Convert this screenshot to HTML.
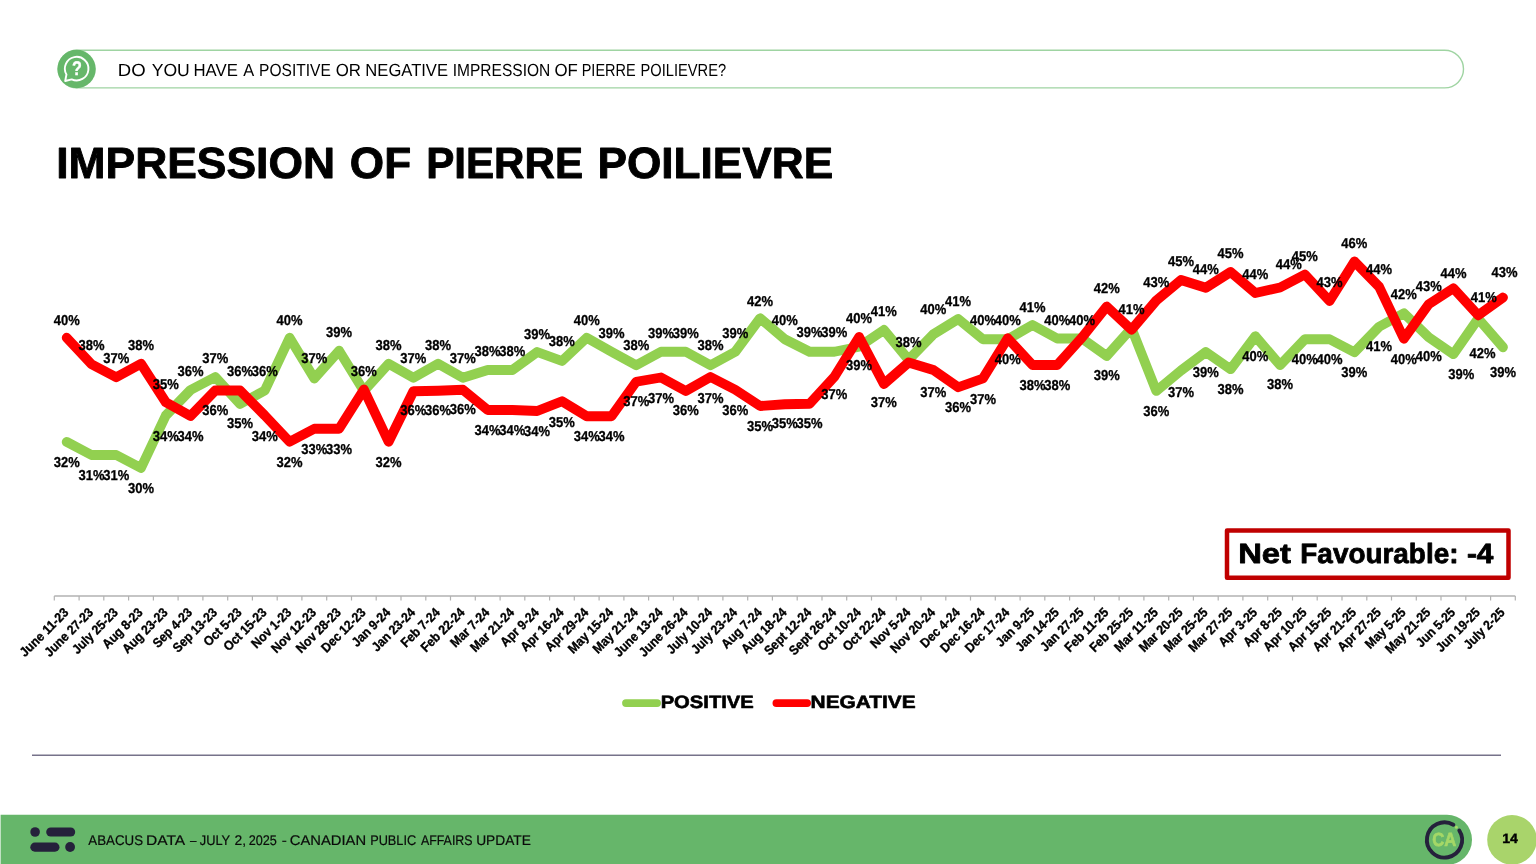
<!DOCTYPE html>
<html lang="en">
<head>
<meta charset="utf-8">
<title>Impression of Pierre Poilievre</title>
<style>
html,body{margin:0;padding:0;background:#fff;}
body{width:1536px;height:864px;overflow:hidden;position:relative;font-family:"Liberation Sans",sans-serif;}
svg{position:absolute;left:0;top:0;display:block;}
text{font-family:"Liberation Sans",sans-serif;text-rendering:geometricPrecision;}
.dl text{font-weight:bold;font-size:14.3px;fill:#000;stroke:#000;stroke-width:0.3;}
.ax text{font-weight:bold;font-size:13.2px;fill:#000;stroke:#000;stroke-width:0.35;text-anchor:end;}
</style>
</head>
<body>
<svg width="1536" height="864" viewBox="0 0 1536 864">
<rect x="0" y="0" width="1536" height="864" fill="#ffffff"/>

<!-- question pill -->
<rect x="58.2" y="50.3" width="1405.3" height="37.6" rx="18.8" ry="18.8" fill="#ffffff" stroke="#9fd4a2" stroke-width="1.4"/>
<circle cx="76.6" cy="69" r="19.2" fill="#66b76a"/>
<path d="M66.44 74.55 A11.8 11.8 0 1 1 71.67 79.34 L65.2 81.0 Z" fill="none" stroke="#ffffff" stroke-width="1.9" stroke-linecap="round" stroke-linejoin="round"/>
<text transform="translate(76.9 75.3) scale(1 1.22)" x="0" y="0" font-size="16.2" font-weight="bold" fill="#ffffff" stroke="#ffffff" stroke-width="0.3" text-anchor="middle">?</text>
<text x="117.88" y="76.00" font-size="17.5" fill="#000" textLength="27.81" lengthAdjust="spacingAndGlyphs">DO</text>
<text x="151.71" y="76.00" font-size="17.5" fill="#000" textLength="38.14" lengthAdjust="spacingAndGlyphs">YOU</text>
<text x="193.46" y="76.00" font-size="17.5" fill="#000" textLength="44.34" lengthAdjust="spacingAndGlyphs">HAVE</text>
<text x="243.27" y="76.00" font-size="17.5" fill="#000" textLength="10.96" lengthAdjust="spacingAndGlyphs">A</text>
<text x="259.12" y="76.00" font-size="17.5" fill="#000" textLength="71.74" lengthAdjust="spacingAndGlyphs">POSITIVE</text>
<text x="335.70" y="76.00" font-size="17.5" fill="#000" textLength="25.28" lengthAdjust="spacingAndGlyphs">OR</text>
<text x="365.36" y="76.00" font-size="17.5" fill="#000" textLength="82.64" lengthAdjust="spacingAndGlyphs">NEGATIVE</text>
<text x="452.77" y="76.00" font-size="17.5" fill="#000" textLength="97.50" lengthAdjust="spacingAndGlyphs">IMPRESSION</text>
<text x="554.40" y="76.00" font-size="17.5" fill="#000" textLength="23.37" lengthAdjust="spacingAndGlyphs">OF</text>
<text x="581.71" y="76.00" font-size="17.5" fill="#000" textLength="53.91" lengthAdjust="spacingAndGlyphs">PIERRE</text>
<text x="640.50" y="76.00" font-size="17.5" fill="#000" textLength="85.65" lengthAdjust="spacingAndGlyphs">POILIEVRE?</text>
<!-- title -->
<text x="56.23" y="178.00" font-size="43.6" font-weight="bold" fill="#000" stroke="#000" stroke-width="0.9" stroke-linejoin="round" textLength="278.81" lengthAdjust="spacingAndGlyphs">IMPRESSION</text>
<text x="349.89" y="178.00" font-size="43.6" font-weight="bold" fill="#000" stroke="#000" stroke-width="0.9" stroke-linejoin="round" textLength="61.28" lengthAdjust="spacingAndGlyphs">OF</text>
<text x="426.13" y="178.00" font-size="43.6" font-weight="bold" fill="#000" stroke="#000" stroke-width="0.9" stroke-linejoin="round" textLength="156.86" lengthAdjust="spacingAndGlyphs">PIERRE</text>
<text x="597.49" y="178.00" font-size="43.6" font-weight="bold" fill="#000" stroke="#000" stroke-width="0.9" stroke-linejoin="round" textLength="235.68" lengthAdjust="spacingAndGlyphs">POILIEVRE</text>
<!-- chart -->
<polyline points="66.7,441.95 91.5,455.00 116.2,455.00 141.0,468.00 165.8,415.50 190.5,390.00 215.3,377.00 240.0,404.00 264.8,390.50 289.6,337.75 314.3,378.50 339.1,350.75 363.9,391.00 388.6,363.75 413.4,377.75 438.1,363.75 462.9,377.75 487.7,370.00 512.4,370.00 537.2,352.00 562.0,361.00 586.7,337.75 611.5,351.75 636.2,365.25 661.0,351.75 685.8,351.75 710.5,365.25 735.3,351.75 760.1,318.25 784.8,339.25 809.6,351.75 834.4,351.75 859.1,346.75 883.9,329.95 908.6,359.75 933.4,334.25 958.2,319.00 982.9,339.25 1007.7,339.25 1032.5,325.00 1057.2,338.50 1082.0,338.50 1106.7,356.00 1131.5,328.25 1156.3,390.95 1181.0,370.50 1205.8,352.00 1230.6,369.20 1255.3,336.25 1280.1,365.15 1304.9,339.25 1329.6,339.25 1354.4,352.25 1379.1,326.75 1403.9,313.25 1428.7,337.25 1453.4,354.20 1478.2,318.65 1503.0,347.25" fill="none" stroke="#92d050" stroke-width="9.8" stroke-linecap="round" stroke-linejoin="round"/>
<polyline points="66.7,337.75 91.5,364.25 116.2,377.25 141.0,363.75 165.8,402.25 190.5,416.00 215.3,390.50 240.0,390.50 264.8,415.50 289.6,441.75 314.3,428.75 339.1,428.75 363.9,389.50 388.6,441.75 413.4,391.25 438.1,390.75 462.9,389.75 487.7,410.00 512.4,410.00 537.2,411.00 562.0,401.25 586.7,416.25 611.5,416.25 636.2,381.75 661.0,377.50 685.8,391.00 710.5,377.00 735.3,389.75 760.1,406.00 784.8,404.25 809.6,403.75 834.4,376.75 859.1,337.00 883.9,384.00 908.6,362.50 933.4,370.00 958.2,387.25 982.9,378.50 1007.7,338.25 1032.5,365.00 1057.2,365.00 1082.0,337.50 1106.7,306.50 1131.5,329.75 1156.3,300.50 1181.0,280.00 1205.8,287.75 1230.6,272.00 1255.3,293.00 1280.1,287.50 1304.9,274.50 1329.6,301.00 1354.4,261.50 1379.1,286.75 1403.9,338.75 1428.7,304.25 1453.4,288.25 1478.2,315.30 1503.0,297.50" fill="none" stroke="#ff0000" stroke-width="9.8" stroke-linecap="round" stroke-linejoin="round"/>
<g class="dl">
<text x="53.7" y="324.8" textLength="26.0" lengthAdjust="spacingAndGlyphs">40%</text>
<text x="78.5" y="350.3" textLength="26.0" lengthAdjust="spacingAndGlyphs">38%</text>
<text x="103.2" y="363.1" textLength="26.0" lengthAdjust="spacingAndGlyphs">37%</text>
<text x="128.0" y="350.3" textLength="26.0" lengthAdjust="spacingAndGlyphs">38%</text>
<text x="152.7" y="389.3" textLength="26.0" lengthAdjust="spacingAndGlyphs">35%</text>
<text x="177.5" y="441.1" textLength="26.0" lengthAdjust="spacingAndGlyphs">34%</text>
<text x="202.2" y="415.3" textLength="26.0" lengthAdjust="spacingAndGlyphs">36%</text>
<text x="227.0" y="376.1" textLength="26.0" lengthAdjust="spacingAndGlyphs">36%</text>
<text x="251.7" y="441.1" textLength="26.0" lengthAdjust="spacingAndGlyphs">34%</text>
<text x="152.7" y="441.1" textLength="26.0" lengthAdjust="spacingAndGlyphs">34%</text>
<text x="177.5" y="376.1" textLength="26.0" lengthAdjust="spacingAndGlyphs">36%</text>
<text x="202.2" y="363.1" textLength="26.0" lengthAdjust="spacingAndGlyphs">37%</text>
<text x="227.0" y="428.1" textLength="26.0" lengthAdjust="spacingAndGlyphs">35%</text>
<text x="251.7" y="376.1" textLength="26.0" lengthAdjust="spacingAndGlyphs">36%</text>
<text x="53.7" y="466.8" textLength="26.0" lengthAdjust="spacingAndGlyphs">32%</text>
<text x="78.5" y="479.8" textLength="26.0" lengthAdjust="spacingAndGlyphs">31%</text>
<text x="103.2" y="479.8" textLength="26.0" lengthAdjust="spacingAndGlyphs">31%</text>
<text x="128.0" y="493.1" textLength="26.0" lengthAdjust="spacingAndGlyphs">30%</text>
<text x="276.5" y="466.8" textLength="26.0" lengthAdjust="spacingAndGlyphs">32%</text>
<text x="301.2" y="453.8" textLength="26.0" lengthAdjust="spacingAndGlyphs">33%</text>
<text x="326.0" y="453.8" textLength="26.0" lengthAdjust="spacingAndGlyphs">33%</text>
<text x="350.7" y="376.1" textLength="26.0" lengthAdjust="spacingAndGlyphs">36%</text>
<text x="375.5" y="466.8" textLength="26.0" lengthAdjust="spacingAndGlyphs">32%</text>
<text x="276.5" y="324.8" textLength="26.0" lengthAdjust="spacingAndGlyphs">40%</text>
<text x="301.2" y="363.1" textLength="26.0" lengthAdjust="spacingAndGlyphs">37%</text>
<text x="326.0" y="337.3" textLength="26.0" lengthAdjust="spacingAndGlyphs">39%</text>
<text x="375.5" y="350.3" textLength="26.0" lengthAdjust="spacingAndGlyphs">38%</text>
<text x="400.2" y="363.1" textLength="26.0" lengthAdjust="spacingAndGlyphs">37%</text>
<text x="425.0" y="350.3" textLength="26.0" lengthAdjust="spacingAndGlyphs">38%</text>
<text x="449.7" y="363.1" textLength="26.0" lengthAdjust="spacingAndGlyphs">37%</text>
<text x="474.5" y="355.6" textLength="26.0" lengthAdjust="spacingAndGlyphs">38%</text>
<text x="499.2" y="355.6" textLength="26.0" lengthAdjust="spacingAndGlyphs">38%</text>
<text x="524.0" y="339.3" textLength="26.0" lengthAdjust="spacingAndGlyphs">39%</text>
<text x="548.7" y="346.1" textLength="26.0" lengthAdjust="spacingAndGlyphs">38%</text>
<text x="573.7" y="324.8" textLength="26.0" lengthAdjust="spacingAndGlyphs">40%</text>
<text x="598.5" y="337.8" textLength="26.0" lengthAdjust="spacingAndGlyphs">39%</text>
<text x="623.2" y="350.3" textLength="26.0" lengthAdjust="spacingAndGlyphs">38%</text>
<text x="648.0" y="337.8" textLength="26.0" lengthAdjust="spacingAndGlyphs">39%</text>
<text x="672.7" y="337.8" textLength="26.0" lengthAdjust="spacingAndGlyphs">39%</text>
<text x="697.5" y="350.3" textLength="26.0" lengthAdjust="spacingAndGlyphs">38%</text>
<text x="722.2" y="337.8" textLength="26.0" lengthAdjust="spacingAndGlyphs">39%</text>
<text x="747.0" y="305.6" textLength="26.0" lengthAdjust="spacingAndGlyphs">42%</text>
<text x="400.2" y="415.3" textLength="26.0" lengthAdjust="spacingAndGlyphs">36%</text>
<text x="425.0" y="415.3" textLength="26.0" lengthAdjust="spacingAndGlyphs">36%</text>
<text x="449.7" y="414.3" textLength="26.0" lengthAdjust="spacingAndGlyphs">36%</text>
<text x="474.5" y="434.8" textLength="26.0" lengthAdjust="spacingAndGlyphs">34%</text>
<text x="499.2" y="434.8" textLength="26.0" lengthAdjust="spacingAndGlyphs">34%</text>
<text x="524.0" y="435.6" textLength="26.0" lengthAdjust="spacingAndGlyphs">34%</text>
<text x="548.7" y="426.8" textLength="26.0" lengthAdjust="spacingAndGlyphs">35%</text>
<text x="573.7" y="441.1" textLength="26.0" lengthAdjust="spacingAndGlyphs">34%</text>
<text x="598.5" y="441.1" textLength="26.0" lengthAdjust="spacingAndGlyphs">34%</text>
<text x="623.2" y="406.1" textLength="26.0" lengthAdjust="spacingAndGlyphs">37%</text>
<text x="648.0" y="402.8" textLength="26.0" lengthAdjust="spacingAndGlyphs">37%</text>
<text x="672.7" y="415.3" textLength="26.0" lengthAdjust="spacingAndGlyphs">36%</text>
<text x="697.5" y="402.8" textLength="26.0" lengthAdjust="spacingAndGlyphs">37%</text>
<text x="722.2" y="415.3" textLength="26.0" lengthAdjust="spacingAndGlyphs">36%</text>
<text x="747.0" y="430.6" textLength="26.0" lengthAdjust="spacingAndGlyphs">35%</text>
<text x="771.7" y="324.8" textLength="26.0" lengthAdjust="spacingAndGlyphs">40%</text>
<text x="796.5" y="337.3" textLength="26.0" lengthAdjust="spacingAndGlyphs">39%</text>
<text x="821.2" y="337.3" textLength="26.0" lengthAdjust="spacingAndGlyphs">39%</text>
<text x="846.0" y="370.3" textLength="26.0" lengthAdjust="spacingAndGlyphs">39%</text>
<text x="870.7" y="316.1" textLength="26.0" lengthAdjust="spacingAndGlyphs">41%</text>
<text x="895.5" y="346.8" textLength="26.0" lengthAdjust="spacingAndGlyphs">38%</text>
<text x="920.2" y="314.1" textLength="26.0" lengthAdjust="spacingAndGlyphs">40%</text>
<text x="945.0" y="306.1" textLength="26.0" lengthAdjust="spacingAndGlyphs">41%</text>
<text x="970.0" y="324.8" textLength="26.0" lengthAdjust="spacingAndGlyphs">40%</text>
<text x="994.7" y="324.8" textLength="26.0" lengthAdjust="spacingAndGlyphs">40%</text>
<text x="1019.5" y="312.3" textLength="26.0" lengthAdjust="spacingAndGlyphs">41%</text>
<text x="1044.2" y="324.8" textLength="26.0" lengthAdjust="spacingAndGlyphs">40%</text>
<text x="1069.0" y="324.8" textLength="26.0" lengthAdjust="spacingAndGlyphs">40%</text>
<text x="1093.7" y="380.3" textLength="26.0" lengthAdjust="spacingAndGlyphs">39%</text>
<text x="1118.5" y="313.6" textLength="26.0" lengthAdjust="spacingAndGlyphs">41%</text>
<text x="771.7" y="427.8" textLength="26.0" lengthAdjust="spacingAndGlyphs">35%</text>
<text x="796.5" y="427.8" textLength="26.0" lengthAdjust="spacingAndGlyphs">35%</text>
<text x="821.2" y="399.1" textLength="26.0" lengthAdjust="spacingAndGlyphs">37%</text>
<text x="846.0" y="323.1" textLength="26.0" lengthAdjust="spacingAndGlyphs">40%</text>
<text x="870.7" y="407.3" textLength="26.0" lengthAdjust="spacingAndGlyphs">37%</text>
<text x="920.2" y="396.6" textLength="26.0" lengthAdjust="spacingAndGlyphs">37%</text>
<text x="945.0" y="412.3" textLength="26.0" lengthAdjust="spacingAndGlyphs">36%</text>
<text x="970.0" y="404.3" textLength="26.0" lengthAdjust="spacingAndGlyphs">37%</text>
<text x="994.7" y="363.6" textLength="26.0" lengthAdjust="spacingAndGlyphs">40%</text>
<text x="1019.5" y="389.8" textLength="26.0" lengthAdjust="spacingAndGlyphs">38%</text>
<text x="1044.2" y="389.8" textLength="26.0" lengthAdjust="spacingAndGlyphs">38%</text>
<text x="1093.7" y="293.1" textLength="26.0" lengthAdjust="spacingAndGlyphs">42%</text>
<text x="1143.2" y="286.8" textLength="26.0" lengthAdjust="spacingAndGlyphs">43%</text>
<text x="1168.0" y="265.6" textLength="26.0" lengthAdjust="spacingAndGlyphs">45%</text>
<text x="1192.7" y="273.6" textLength="26.0" lengthAdjust="spacingAndGlyphs">44%</text>
<text x="1217.5" y="258.1" textLength="26.0" lengthAdjust="spacingAndGlyphs">45%</text>
<text x="1242.2" y="278.6" textLength="26.0" lengthAdjust="spacingAndGlyphs">44%</text>
<text x="1275.7" y="268.6" textLength="26.0" lengthAdjust="spacingAndGlyphs">44%</text>
<text x="1291.7" y="260.6" textLength="26.0" lengthAdjust="spacingAndGlyphs">45%</text>
<text x="1316.5" y="286.8" textLength="26.0" lengthAdjust="spacingAndGlyphs">43%</text>
<text x="1341.2" y="247.8" textLength="26.0" lengthAdjust="spacingAndGlyphs">46%</text>
<text x="1366.0" y="273.6" textLength="26.0" lengthAdjust="spacingAndGlyphs">44%</text>
<text x="1390.7" y="364.3" textLength="26.0" lengthAdjust="spacingAndGlyphs">40%</text>
<text x="1415.7" y="290.6" textLength="26.0" lengthAdjust="spacingAndGlyphs">43%</text>
<text x="1440.5" y="278.1" textLength="26.0" lengthAdjust="spacingAndGlyphs">44%</text>
<text x="1470.7" y="301.8" textLength="26.0" lengthAdjust="spacingAndGlyphs">41%</text>
<text x="1491.5" y="277.3" textLength="26.0" lengthAdjust="spacingAndGlyphs">43%</text>
<text x="1143.2" y="416.1" textLength="26.0" lengthAdjust="spacingAndGlyphs">36%</text>
<text x="1168.0" y="396.8" textLength="26.0" lengthAdjust="spacingAndGlyphs">37%</text>
<text x="1192.7" y="376.6" textLength="26.0" lengthAdjust="spacingAndGlyphs">39%</text>
<text x="1217.5" y="394.3" textLength="26.0" lengthAdjust="spacingAndGlyphs">38%</text>
<text x="1242.2" y="361.1" textLength="26.0" lengthAdjust="spacingAndGlyphs">40%</text>
<text x="1267.0" y="389.3" textLength="26.0" lengthAdjust="spacingAndGlyphs">38%</text>
<text x="1291.7" y="364.3" textLength="26.0" lengthAdjust="spacingAndGlyphs">40%</text>
<text x="1316.5" y="364.3" textLength="26.0" lengthAdjust="spacingAndGlyphs">40%</text>
<text x="1341.2" y="376.6" textLength="26.0" lengthAdjust="spacingAndGlyphs">39%</text>
<text x="1366.0" y="351.1" textLength="26.0" lengthAdjust="spacingAndGlyphs">41%</text>
<text x="1390.7" y="299.1" textLength="26.0" lengthAdjust="spacingAndGlyphs">42%</text>
<text x="1415.7" y="361.1" textLength="26.0" lengthAdjust="spacingAndGlyphs">40%</text>
<text x="1448.2" y="379.1" textLength="26.0" lengthAdjust="spacingAndGlyphs">39%</text>
<text x="1469.5" y="358.1" textLength="26.0" lengthAdjust="spacingAndGlyphs">42%</text>
<text x="1490.0" y="376.6" textLength="26.0" lengthAdjust="spacingAndGlyphs">39%</text>
</g>
<path d="M54.3 596H1515.3" stroke="#b2b2b2" stroke-width="1.3" fill="none"/>
<path d="M54.3 596v4.6M79.1 596v4.6M103.8 596v4.6M128.6 596v4.6M153.4 596v4.6M178.1 596v4.6M202.9 596v4.6M227.7 596v4.6M252.4 596v4.6M277.2 596v4.6M301.9 596v4.6M326.7 596v4.6M351.5 596v4.6M376.2 596v4.6M401.0 596v4.6M425.8 596v4.6M450.5 596v4.6M475.3 596v4.6M500.1 596v4.6M524.8 596v4.6M549.6 596v4.6M574.3 596v4.6M599.1 596v4.6M623.9 596v4.6M648.6 596v4.6M673.4 596v4.6M698.2 596v4.6M722.9 596v4.6M747.7 596v4.6M772.4 596v4.6M797.2 596v4.6M822.0 596v4.6M846.7 596v4.6M871.5 596v4.6M896.3 596v4.6M921.0 596v4.6M945.8 596v4.6M970.5 596v4.6M995.3 596v4.6M1020.1 596v4.6M1044.8 596v4.6M1069.6 596v4.6M1094.4 596v4.6M1119.1 596v4.6M1143.9 596v4.6M1168.7 596v4.6M1193.4 596v4.6M1218.2 596v4.6M1242.9 596v4.6M1267.7 596v4.6M1292.5 596v4.6M1317.2 596v4.6M1342.0 596v4.6M1366.8 596v4.6M1391.5 596v4.6M1416.3 596v4.6M1441.0 596v4.6M1465.8 596v4.6M1490.6 596v4.6M1515.3 596v4.6" stroke="#b2b2b2" stroke-width="1.2" fill="none"/>
<g class="ax">
<text transform="translate(69.3 613.3) rotate(-45)" x="0" y="0" textLength="62.6" lengthAdjust="spacingAndGlyphs">June 11-23</text>
<text transform="translate(94.1 613.3) rotate(-45)" x="0" y="0" textLength="62.6" lengthAdjust="spacingAndGlyphs">June 27-23</text>
<text transform="translate(118.8 613.3) rotate(-45)" x="0" y="0" textLength="58.5" lengthAdjust="spacingAndGlyphs">July 25-23</text>
<text transform="translate(143.6 613.3) rotate(-45)" x="0" y="0" textLength="51.1" lengthAdjust="spacingAndGlyphs">Aug 8-23</text>
<text transform="translate(168.4 613.3) rotate(-45)" x="0" y="0" textLength="57.8" lengthAdjust="spacingAndGlyphs">Aug 23-23</text>
<text transform="translate(193.1 613.3) rotate(-45)" x="0" y="0" textLength="49.8" lengthAdjust="spacingAndGlyphs">Sep 4-23</text>
<text transform="translate(217.9 613.3) rotate(-45)" x="0" y="0" textLength="56.5" lengthAdjust="spacingAndGlyphs">Sep 13-23</text>
<text transform="translate(242.6 613.3) rotate(-45)" x="0" y="0" textLength="47.8" lengthAdjust="spacingAndGlyphs">Oct 5-23</text>
<text transform="translate(267.4 613.3) rotate(-45)" x="0" y="0" textLength="54.5" lengthAdjust="spacingAndGlyphs">Oct 15-23</text>
<text transform="translate(292.2 613.3) rotate(-45)" x="0" y="0" textLength="50.4" lengthAdjust="spacingAndGlyphs">Nov 1-23</text>
<text transform="translate(316.9 613.3) rotate(-45)" x="0" y="0" textLength="57.2" lengthAdjust="spacingAndGlyphs">Nov 12-23</text>
<text transform="translate(341.7 613.3) rotate(-45)" x="0" y="0" textLength="57.2" lengthAdjust="spacingAndGlyphs">Nov 28-23</text>
<text transform="translate(366.5 613.3) rotate(-45)" x="0" y="0" textLength="56.5" lengthAdjust="spacingAndGlyphs">Dec 12-23</text>
<text transform="translate(391.2 613.3) rotate(-45)" x="0" y="0" textLength="48.4" lengthAdjust="spacingAndGlyphs">Jan 9-24</text>
<text transform="translate(416.0 613.3) rotate(-45)" x="0" y="0" textLength="55.2" lengthAdjust="spacingAndGlyphs">Jan 23-24</text>
<text transform="translate(440.7 613.3) rotate(-45)" x="0" y="0" textLength="49.1" lengthAdjust="spacingAndGlyphs">Feb 7-24</text>
<text transform="translate(465.5 613.3) rotate(-45)" x="0" y="0" textLength="55.8" lengthAdjust="spacingAndGlyphs">Feb 22-24</text>
<text transform="translate(490.3 613.3) rotate(-45)" x="0" y="0" textLength="49.1" lengthAdjust="spacingAndGlyphs">Mar 7-24</text>
<text transform="translate(515.0 613.3) rotate(-45)" x="0" y="0" textLength="55.8" lengthAdjust="spacingAndGlyphs">Mar 21-24</text>
<text transform="translate(539.8 613.3) rotate(-45)" x="0" y="0" textLength="48.4" lengthAdjust="spacingAndGlyphs">Apr 9-24</text>
<text transform="translate(564.6 613.3) rotate(-45)" x="0" y="0" textLength="55.1" lengthAdjust="spacingAndGlyphs">Apr 16-24</text>
<text transform="translate(589.3 613.3) rotate(-45)" x="0" y="0" textLength="55.1" lengthAdjust="spacingAndGlyphs">Apr 29-24</text>
<text transform="translate(614.1 613.3) rotate(-45)" x="0" y="0" textLength="57.8" lengthAdjust="spacingAndGlyphs">May 15-24</text>
<text transform="translate(638.8 613.3) rotate(-45)" x="0" y="0" textLength="57.8" lengthAdjust="spacingAndGlyphs">May 21-24</text>
<text transform="translate(663.6 613.3) rotate(-45)" x="0" y="0" textLength="62.6" lengthAdjust="spacingAndGlyphs">June 13-24</text>
<text transform="translate(688.4 613.3) rotate(-45)" x="0" y="0" textLength="62.6" lengthAdjust="spacingAndGlyphs">June 26-24</text>
<text transform="translate(713.1 613.3) rotate(-45)" x="0" y="0" textLength="58.5" lengthAdjust="spacingAndGlyphs">July 10-24</text>
<text transform="translate(737.9 613.3) rotate(-45)" x="0" y="0" textLength="58.5" lengthAdjust="spacingAndGlyphs">July 23-24</text>
<text transform="translate(762.7 613.3) rotate(-45)" x="0" y="0" textLength="51.1" lengthAdjust="spacingAndGlyphs">Aug 7-24</text>
<text transform="translate(787.4 613.3) rotate(-45)" x="0" y="0" textLength="57.8" lengthAdjust="spacingAndGlyphs">Aug 18-24</text>
<text transform="translate(812.2 613.3) rotate(-45)" x="0" y="0" textLength="60.5" lengthAdjust="spacingAndGlyphs">Sept 12-24</text>
<text transform="translate(837.0 613.3) rotate(-45)" x="0" y="0" textLength="60.5" lengthAdjust="spacingAndGlyphs">Sept 26-24</text>
<text transform="translate(861.7 613.3) rotate(-45)" x="0" y="0" textLength="54.5" lengthAdjust="spacingAndGlyphs">Oct 10-24</text>
<text transform="translate(886.5 613.3) rotate(-45)" x="0" y="0" textLength="54.5" lengthAdjust="spacingAndGlyphs">Oct 22-24</text>
<text transform="translate(911.2 613.3) rotate(-45)" x="0" y="0" textLength="50.4" lengthAdjust="spacingAndGlyphs">Nov 5-24</text>
<text transform="translate(936.0 613.3) rotate(-45)" x="0" y="0" textLength="57.2" lengthAdjust="spacingAndGlyphs">Nov 20-24</text>
<text transform="translate(960.8 613.3) rotate(-45)" x="0" y="0" textLength="49.8" lengthAdjust="spacingAndGlyphs">Dec 4-24</text>
<text transform="translate(985.5 613.3) rotate(-45)" x="0" y="0" textLength="56.5" lengthAdjust="spacingAndGlyphs">Dec 16-24</text>
<text transform="translate(1010.3 613.3) rotate(-45)" x="0" y="0" textLength="56.5" lengthAdjust="spacingAndGlyphs">Dec 17-24</text>
<text transform="translate(1035.1 613.3) rotate(-45)" x="0" y="0" textLength="48.4" lengthAdjust="spacingAndGlyphs">Jan 9-25</text>
<text transform="translate(1059.8 613.3) rotate(-45)" x="0" y="0" textLength="55.2" lengthAdjust="spacingAndGlyphs">Jan 14-25</text>
<text transform="translate(1084.6 613.3) rotate(-45)" x="0" y="0" textLength="55.2" lengthAdjust="spacingAndGlyphs">Jan 27-25</text>
<text transform="translate(1109.3 613.3) rotate(-45)" x="0" y="0" textLength="55.8" lengthAdjust="spacingAndGlyphs">Feb 11-25</text>
<text transform="translate(1134.1 613.3) rotate(-45)" x="0" y="0" textLength="55.8" lengthAdjust="spacingAndGlyphs">Feb 25-25</text>
<text transform="translate(1158.9 613.3) rotate(-45)" x="0" y="0" textLength="55.8" lengthAdjust="spacingAndGlyphs">Mar 11-25</text>
<text transform="translate(1183.6 613.3) rotate(-45)" x="0" y="0" textLength="55.8" lengthAdjust="spacingAndGlyphs">Mar 20-25</text>
<text transform="translate(1208.4 613.3) rotate(-45)" x="0" y="0" textLength="55.8" lengthAdjust="spacingAndGlyphs">Mar 25-25</text>
<text transform="translate(1233.2 613.3) rotate(-45)" x="0" y="0" textLength="55.8" lengthAdjust="spacingAndGlyphs">Mar 27-25</text>
<text transform="translate(1257.9 613.3) rotate(-45)" x="0" y="0" textLength="48.4" lengthAdjust="spacingAndGlyphs">Apr 3-25</text>
<text transform="translate(1282.7 613.3) rotate(-45)" x="0" y="0" textLength="48.4" lengthAdjust="spacingAndGlyphs">Apr 8-25</text>
<text transform="translate(1307.5 613.3) rotate(-45)" x="0" y="0" textLength="55.1" lengthAdjust="spacingAndGlyphs">Apr 10-25</text>
<text transform="translate(1332.2 613.3) rotate(-45)" x="0" y="0" textLength="55.1" lengthAdjust="spacingAndGlyphs">Apr 15-25</text>
<text transform="translate(1357.0 613.3) rotate(-45)" x="0" y="0" textLength="55.1" lengthAdjust="spacingAndGlyphs">Apr 21-25</text>
<text transform="translate(1381.7 613.3) rotate(-45)" x="0" y="0" textLength="55.1" lengthAdjust="spacingAndGlyphs">Apr 27-25</text>
<text transform="translate(1406.5 613.3) rotate(-45)" x="0" y="0" textLength="51.1" lengthAdjust="spacingAndGlyphs">May 5-25</text>
<text transform="translate(1431.3 613.3) rotate(-45)" x="0" y="0" textLength="57.8" lengthAdjust="spacingAndGlyphs">May 21-25</text>
<text transform="translate(1456.0 613.3) rotate(-45)" x="0" y="0" textLength="49.1" lengthAdjust="spacingAndGlyphs">Jun 5-25</text>
<text transform="translate(1480.8 613.3) rotate(-45)" x="0" y="0" textLength="55.8" lengthAdjust="spacingAndGlyphs">Jun 19-25</text>
<text transform="translate(1505.6 613.3) rotate(-45)" x="0" y="0" textLength="51.8" lengthAdjust="spacingAndGlyphs">July 2-25</text>
</g>
<!-- legend -->
<path d="M626 703.1H657.1" stroke="#92d050" stroke-width="7.8" stroke-linecap="round"/>
<text x="660.65" y="708.00" font-size="17.9" font-weight="bold" fill="#000" stroke="#000" stroke-width="0.6" stroke-linejoin="round" textLength="93.14" lengthAdjust="spacingAndGlyphs">POSITIVE</text>
<path d="M776.4 703.1H807.1" stroke="#ff0000" stroke-width="7.8" stroke-linecap="round"/>
<text x="810.62" y="708.00" font-size="17.9" font-weight="bold" fill="#000" stroke="#000" stroke-width="0.6" stroke-linejoin="round" textLength="105.08" lengthAdjust="spacingAndGlyphs">NEGATIVE</text>
<!-- net favourable -->
<rect x="1227" y="530.55" width="281.5" height="47.2" fill="#ffffff" stroke="#c00000" stroke-width="4.5" stroke-linejoin="round"/>
<text x="1238.21" y="563.00" font-size="27.9" font-weight="bold" fill="#000" stroke="#000" stroke-width="0.8" stroke-linejoin="round" textLength="52.79" lengthAdjust="spacingAndGlyphs">Net</text>
<text x="1300.33" y="563.00" font-size="27.9" font-weight="bold" fill="#000" stroke="#000" stroke-width="0.8" stroke-linejoin="round" textLength="158.15" lengthAdjust="spacingAndGlyphs">Favourable:</text>
<text x="1466.93" y="563.00" font-size="27.9" font-weight="bold" fill="#000" stroke="#000" stroke-width="0.8" stroke-linejoin="round" textLength="26.53" lengthAdjust="spacingAndGlyphs">-4</text>
<path d="M32 755.2H1501" stroke="#76728a" stroke-width="1.5" fill="none"/>
<!-- footer -->
<path d="M0.6 814.8H1447A25 25 0 0 1 1447 864.8H0.6Z" fill="#66b66a"/>
<circle cx="1512" cy="839.8" r="24.8" fill="#a9d46b"/>
<text x="1502.21" y="843.40" font-size="13.6" font-weight="bold" fill="#000" stroke="#000" stroke-width="0.4" stroke-linejoin="round" textLength="15.77" lengthAdjust="spacingAndGlyphs">14</text>
<g fill="#25213b"><circle cx="35.1" cy="832" r="4.8"/><rect x="46.2" y="827.4" width="29" height="9.1" rx="4.55"/><rect x="30.3" y="842.6" width="29.2" height="9.1" rx="4.55"/><circle cx="70.1" cy="847" r="4.9"/></g>
<text x="88.37" y="845.00" font-size="14.0" fill="#0a0a0a" stroke="#0a0a0a" stroke-width="0.2" stroke-linejoin="round" textLength="54.64" lengthAdjust="spacingAndGlyphs">ABACUS</text>
<text x="146.00" y="845.00" font-size="14.0" fill="#0a0a0a" stroke="#0a0a0a" stroke-width="0.2" stroke-linejoin="round" textLength="39.13" lengthAdjust="spacingAndGlyphs">DATA</text>
<text x="190.10" y="845.00" font-size="14.0" fill="#0a0a0a" stroke="#0a0a0a" stroke-width="0.2" stroke-linejoin="round" textLength="6.51" lengthAdjust="spacingAndGlyphs">–</text>
<text x="199.71" y="845.00" font-size="14.0" fill="#0a0a0a" stroke="#0a0a0a" stroke-width="0.2" stroke-linejoin="round" textLength="30.47" lengthAdjust="spacingAndGlyphs">JULY</text>
<text x="234.60" y="845.00" font-size="14.0" fill="#0a0a0a" stroke="#0a0a0a" stroke-width="0.2" stroke-linejoin="round" textLength="11.54" lengthAdjust="spacingAndGlyphs">2,</text>
<text x="248.66" y="845.00" font-size="14.0" fill="#0a0a0a" stroke="#0a0a0a" stroke-width="0.2" stroke-linejoin="round" textLength="28.17" lengthAdjust="spacingAndGlyphs">2025</text>
<text x="281.83" y="845.00" font-size="14.0" fill="#0a0a0a" stroke="#0a0a0a" stroke-width="0.2" stroke-linejoin="round" textLength="5.05" lengthAdjust="spacingAndGlyphs">-</text>
<text x="289.85" y="845.00" font-size="14.0" fill="#0a0a0a" stroke="#0a0a0a" stroke-width="0.2" stroke-linejoin="round" textLength="76.25" lengthAdjust="spacingAndGlyphs">CANADIAN</text>
<text x="370.15" y="845.00" font-size="14.0" fill="#0a0a0a" stroke="#0a0a0a" stroke-width="0.2" stroke-linejoin="round" textLength="46.03" lengthAdjust="spacingAndGlyphs">PUBLIC</text>
<text x="420.88" y="845.00" font-size="14.0" fill="#0a0a0a" stroke="#0a0a0a" stroke-width="0.2" stroke-linejoin="round" textLength="51.69" lengthAdjust="spacingAndGlyphs">AFFAIRS</text>
<text x="476.16" y="845.00" font-size="14.0" fill="#0a0a0a" stroke="#0a0a0a" stroke-width="0.2" stroke-linejoin="round" textLength="54.72" lengthAdjust="spacingAndGlyphs">UPDATE</text>
<g><path d="M1453.35 824.8 A17.6 17.6 0 1 0 1459.3 830.5" fill="none" stroke="#25213b" stroke-width="3.9" stroke-linecap="round"/><circle cx="1456.4" cy="827.2" r="1.5" fill="#a5d867"/>
<text x="1432.27" y="846.40" font-size="19.0" font-weight="bold" fill="#a5d867" stroke="#a5d867" stroke-width="0.7" stroke-linejoin="round" textLength="24.02" lengthAdjust="spacingAndGlyphs">CA</text></g>
</svg>
</body>
</html>
